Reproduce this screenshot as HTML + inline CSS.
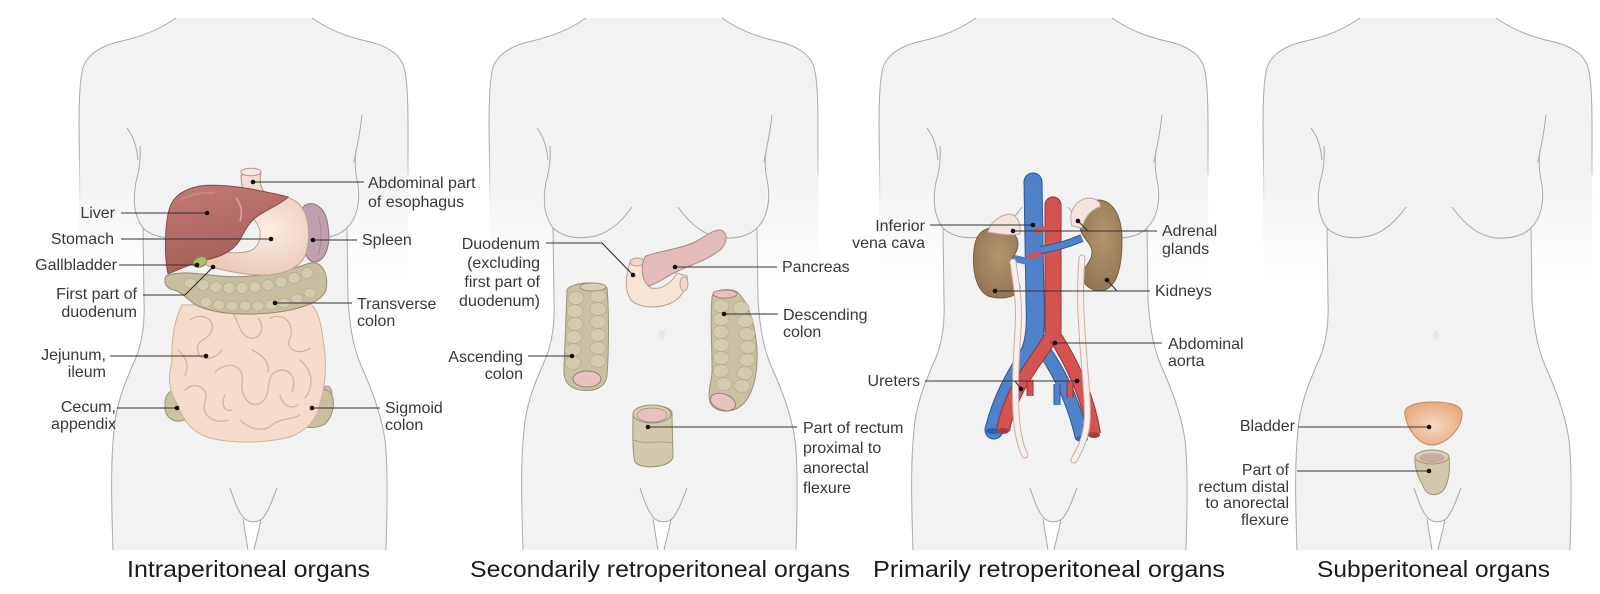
<!DOCTYPE html>
<html><head><meta charset="utf-8">
<style>
html,body{margin:0;padding:0;background:#fff;}
svg{display:block;}
.lbl{font-family:"Liberation Sans",sans-serif;font-size:16px;fill:#383838;}
.ttl{font-family:"Liberation Sans",sans-serif;font-size:23px;fill:#1a1a1a;}
.ld{stroke:#333;stroke-width:1.1;fill:none;}
.ol{stroke:#a9a9a9;stroke-width:1;fill:none;}
.hs{fill:#d2cbad;stroke:#aaa186;stroke-width:0.7;stroke-opacity:0.7;}
.sil{fill:none;stroke:#d6b19c;stroke-width:1.3;stroke-linecap:round;}
</style></head><body>
<svg width="1600" height="594" viewBox="0 0 1600 594" xmlns="http://www.w3.org/2000/svg">
<defs>
<linearGradient id="armfade" gradientUnits="userSpaceOnUse" x1="0" y1="18" x2="0" y2="285">
<stop offset="0" stop-color="#f2f2f2"/><stop offset="0.55" stop-color="#f2f2f2"/><stop offset="1" stop-color="#f2f2f2" stop-opacity="0"/>
</linearGradient>
<linearGradient id="linefade" gradientUnits="userSpaceOnUse" x1="0" y1="60" x2="0" y2="205">
<stop offset="0" stop-color="#a9a9a9"/><stop offset="0.6" stop-color="#a9a9a9"/><stop offset="1" stop-color="#a9a9a9" stop-opacity="0"/>
</linearGradient>
<linearGradient id="liverG" x1="0" y1="0" x2="0.3" y2="1">
<stop offset="0" stop-color="#c27a73"/><stop offset="1" stop-color="#a65e59"/>
</linearGradient>
<radialGradient id="stomG" cx="0.6" cy="0.45" r="0.6">
<stop offset="0" stop-color="#fbeee5"/><stop offset="1" stop-color="#ebc8b5"/>
</radialGradient>
<radialGradient id="bladG" cx="0.5" cy="0.55" r="0.6">
<stop offset="0" stop-color="#f7d8c0"/><stop offset="1" stop-color="#e6a77d"/>
</radialGradient>
<radialGradient id="kidG" cx="0.55" cy="0.4" r="0.65">
<stop offset="0" stop-color="#b3966f"/><stop offset="1" stop-color="#937452"/>
</radialGradient>
<g id="torso">
 <path fill="url(#armfade)" d="M -68,18 L 68,18 C 82,28 100,36 122,41 C 142,45 156,54 160,67 C 163,78 164,100 164,125 L 165,285 L -165,285 L -165,125 C -165,100 -164,78 -161,67 C -156,54 -142,45 -122,41 C -100,36 -82,28 -68,18 Z"/>
 <path fill="#f2f2f2" d="M -117,60 L 118,60 L 118,115 C 116,135 112,150 110,165 L 110,178 C 113,195 113,215 104,226 L 103,228 L 104,300 C 106,330 110,350 118,368 C 128,390 140,420 142,450 C 144,480 143,520 142,550 L -131,550 C -133,490 -133,460 -130,430 C -128,405 -120,385 -110,362 C -102,345 -99,325 -100,300 L -101,228 C -110,215 -110,195 -108,178 L -106,165 C -105,150 -108,138 -117,128 Z"/>
 <ellipse cx="8" cy="335" rx="3" ry="5" fill="#e7e7e7"/>
 <path fill="#fff" d="M -1,519 C 5,523 13,523 17,520 L 10,550 L 4,550 Z"/>
 <path stroke="url(#linefade)" stroke-width="1" fill="none" d="M -68,18 C -82,28 -100,36 -122,41 C -142,45 -156,54 -161,67 C -164,78 -165,100 -165,125 L -164,205"/>
 <path stroke="url(#linefade)" stroke-width="1" fill="none" d="M 68,18 C 82,28 100,36 122,41 C 142,45 156,54 160,67 C 163,78 164,100 164,125 L 164,175"/>
 <path class="ol" d="M -117,128 C -110,137 -107,148 -106,160"/>
 <path class="ol" d="M -104,146 C -103,160 -105,172 -108,182 C -111,198 -111,215 -101,228 C -91,237 -78,239 -64,237 C -48,235 -34,224 -22,207"/>
 <path class="ol" d="M 118,115 C 116,135 112,150 110,162"/>
 <path class="ol" d="M 112,150 C 110,165 112,175 114,185 C 116,200 114,217 103,228 C 96,235 84,239 68,238 C 50,236 36,224 24,207"/>
 <path class="ol" d="M -101,228 L -100,300 C -99,325 -102,345 -110,362 C -120,385 -128,405 -130,430 C -133,460 -133,490 -131,550"/>
 <path class="ol" d="M 103,228 L 104,300 C 106,330 110,350 118,368 C 128,390 140,420 142,450 C 144,480 143,520 142,550"/>
 <path class="ol" d="M -14,488 C -10,500 -6,512 0,518 C 5,523 14,523 19,518 C 25,510 29,498 33,488"/>
 <path class="ol" d="M -1,519 L 4,550 M 17,520 L 10,550"/>
</g>
</defs>

<use href="#torso" transform="translate(244,0)"/>
<use href="#torso" transform="translate(654,0)"/>
<use href="#torso" transform="translate(1044,0)"/>
<use href="#torso" transform="translate(1428,0)"/>

<!-- ===== Torso 1 organs ===== -->
<path d="M 170,392 C 178,385 190,388 192,398 C 194,410 190,420 180,421 C 170,422 164,414 165,405 C 165,398 166,395 170,392 Z" fill="#cdc4a4" stroke="#9a9175"/>
<ellipse cx="327" cy="393" rx="5" ry="7" fill="#d9b2ad" stroke="#a88a85" stroke-width="0.8"/>
<path d="M 295,395 C 305,388 322,386 330,392 C 336,400 334,415 325,424 C 315,430 300,428 292,420 Z" fill="#c9c0a0" stroke="#9a9175"/>
<path d="M 182,305 C 175,318 171,340 172,362 C 168,375 168,392 178,405 C 182,418 190,432 210,438 C 235,444 265,443 290,437 C 308,430 318,418 320,402 C 326,385 327,360 323,340 C 321,322 318,310 310,303 Z" fill="#f5dcca" stroke="#d2ae99"/>
<path class="sil" d="M 190,320 C 200,312 215,318 212,330 C 208,342 195,338 198,352 C 200,362 215,360 222,350"/>
<path class="sil" d="M 230,310 C 240,320 238,335 250,338 C 262,340 265,325 258,318"/>
<path class="sil" d="M 270,318 C 285,312 295,325 290,338 C 284,350 300,356 310,348"/>
<path class="sil" d="M 215,372 C 228,360 245,365 242,382 C 240,398 252,410 262,402 C 272,394 265,378 275,372 C 288,365 298,378 292,392"/>
<path class="sil" d="M 185,390 C 195,380 210,388 205,402 C 200,415 215,425 228,420"/>
<path class="sil" d="M 240,420 C 250,430 265,432 272,425 C 280,418 292,420 300,415"/>
<path class="sil" d="M 300,360 C 312,370 315,385 305,398"/>
<path class="sil" d="M 252,350 C 262,355 270,362 268,372"/>
<path class="sil" d="M 178,350 C 185,356 190,365 185,375"/>
<path class="sil" d="M 225,395 C 220,405 225,412 232,410"/>
<path class="sil" d="M 280,395 C 282,405 290,410 298,405"/>
<path d="M 166,276 C 180,270 200,274 220,276 C 250,279 285,272 310,263 C 322,261 329,274 326,290 C 322,302 300,310 270,313 C 240,316 212,313 196,305 C 188,300 182,292 174,290 C 166,288 163,283 166,276 Z" fill="#c6be9e" stroke="#958c70"/>
<ellipse class="hs" cx="190" cy="283" rx="6" ry="5"/>
<ellipse class="hs" cx="203" cy="285" rx="6" ry="5.5"/>
<ellipse class="hs" cx="216" cy="287" rx="6" ry="5.5"/>
<ellipse class="hs" cx="229" cy="288" rx="6" ry="5.5"/>
<ellipse class="hs" cx="242" cy="288" rx="6" ry="5.5"/>
<ellipse class="hs" cx="255" cy="287" rx="6" ry="5.5"/>
<ellipse class="hs" cx="268" cy="285" rx="6" ry="5.5"/>
<ellipse class="hs" cx="281" cy="282" rx="6" ry="5.5"/>
<ellipse class="hs" cx="294" cy="278" rx="6" ry="5.5"/>
<ellipse class="hs" cx="307" cy="273" rx="6" ry="5.5"/>
<ellipse class="hs" cx="206" cy="302" rx="6" ry="5"/>
<ellipse class="hs" cx="219" cy="305" rx="6" ry="5"/>
<ellipse class="hs" cx="232" cy="306" rx="6" ry="5"/>
<ellipse class="hs" cx="245" cy="306" rx="6" ry="5"/>
<ellipse class="hs" cx="258" cy="306" rx="6" ry="5"/>
<ellipse class="hs" cx="271" cy="305" rx="6" ry="5"/>
<ellipse class="hs" cx="284" cy="303" rx="6" ry="5"/>
<ellipse class="hs" cx="297" cy="299" rx="6" ry="5"/>
<ellipse class="hs" cx="310" cy="293" rx="6" ry="5"/>
<path d="M 304,206 C 314,199 326,208 328,226 C 331,244 326,260 316,262 C 307,263 302,250 302,236 C 302,222 300,212 304,206 Z" fill="#bf9fae" stroke="#8f7483"/>
<path d="M 318,215 C 322,228 322,245 318,255" stroke="#a88797" fill="none"/>
<path d="M 247,196 C 262,190 285,193 298,203 C 310,214 311,240 305,256 C 298,270 280,276 258,275 C 238,274 222,270 208,266 C 200,262 198,256 206,253 C 218,250 238,256 252,250 C 262,244 262,230 256,222 C 250,214 246,205 247,196 Z" fill="url(#stomG)" stroke="#b9a192"/>
<path d="M 241,175 C 241,182 242,188 245,196 L 266,194 C 260,188 259,181 261,173 Z" fill="#f2ddd0" stroke="#a89890"/>
<ellipse cx="251" cy="172" rx="10" ry="3.8" fill="#f6e8de" stroke="#a89890"/>
<path d="M 168,274 C 164,255 165,225 169,210 C 173,195 185,189 200,186 C 225,183 260,190 288,197 C 280,205 265,210 255,218 C 248,224 244,232 240,240 C 234,250 222,257 205,260 C 190,264 178,270 168,274 Z" fill="url(#liverG)" stroke="#864a46"/>
<path d="M 236,198 C 241,205 243,212 240,221" stroke="#dba19a" stroke-width="1.6" fill="none"/>
<path d="M 180,200 C 190,194 205,192 215,193" stroke="#cf8c85" stroke-width="1.5" fill="none"/>
<ellipse cx="200" cy="262" rx="7" ry="5" fill="#a9bf6c" stroke="#7d8f4a" transform="rotate(-20 200 262)"/>

<!-- ===== Torso 2 organs ===== -->
<path d="M 567,290 C 570,282 602,280 607,288 C 609,310 609,350 607,375 C 606,388 594,392 580,390 C 568,388 563,380 564,368 C 565,345 566,315 567,290 Z" fill="#c9c1a1" stroke="#9a9175"/>
<ellipse class="hs" cx="576" cy="298" rx="8" ry="6.5"/><ellipse class="hs" cx="598" cy="296" rx="8" ry="6.5"/>
<ellipse class="hs" cx="575" cy="311" rx="8" ry="6.5"/><ellipse class="hs" cx="598" cy="309" rx="8" ry="6.5"/>
<ellipse class="hs" cx="575" cy="324" rx="8" ry="6.5"/><ellipse class="hs" cx="598" cy="322" rx="8" ry="6.5"/>
<ellipse class="hs" cx="574" cy="337" rx="8" ry="6.5"/><ellipse class="hs" cx="598" cy="335" rx="8" ry="6.5"/>
<ellipse class="hs" cx="573" cy="350" rx="8" ry="6.5"/><ellipse class="hs" cx="598" cy="348" rx="8" ry="6.5"/>
<ellipse class="hs" cx="573" cy="363" rx="8" ry="6.5"/><ellipse class="hs" cx="598" cy="361" rx="8" ry="6.5"/>
<ellipse cx="593" cy="287" rx="13" ry="4" fill="#d8d0b3" stroke="#9a9175"/>
<ellipse cx="587" cy="379" rx="14" ry="8" fill="#e6c3bf" stroke="#9a8070"/>
<path d="M 712,297 C 714,288 736,287 740,295 C 750,306 756,330 757,350 C 758,375 753,395 742,405 C 732,414 714,413 710,402 C 707,392 712,382 712,370 C 712,345 710,320 712,297 Z" fill="#c9c1a1" stroke="#9a9175"/>
<ellipse class="hs" cx="721" cy="306" rx="8" ry="6.5"/><ellipse class="hs" cx="741" cy="308" rx="8" ry="6.5"/>
<ellipse class="hs" cx="721" cy="319" rx="8" ry="6.5"/><ellipse class="hs" cx="745" cy="321" rx="8" ry="6.5"/>
<ellipse class="hs" cx="721" cy="332" rx="8" ry="6.5"/><ellipse class="hs" cx="747" cy="334" rx="8" ry="6.5"/>
<ellipse class="hs" cx="721" cy="345" rx="8" ry="6.5"/><ellipse class="hs" cx="748" cy="347" rx="8" ry="6.5"/>
<ellipse class="hs" cx="721" cy="358" rx="8" ry="6.5"/><ellipse class="hs" cx="747" cy="360" rx="8" ry="6.5"/>
<ellipse class="hs" cx="721" cy="371" rx="8" ry="6.5"/><ellipse class="hs" cx="745" cy="373" rx="8" ry="6.5"/>
<ellipse class="hs" cx="724" cy="384" rx="8" ry="6.5"/><ellipse class="hs" cx="742" cy="386" rx="8" ry="6.5"/>
<ellipse cx="725" cy="294" rx="12" ry="4" fill="#e6c3bf" stroke="#9a8070"/>
<ellipse cx="723" cy="402" rx="13" ry="8" fill="#e6c3bf" stroke="#9a8070" transform="rotate(20 723 402)"/>
<path d="M 633,414 C 633,404 672,402 672,414 L 673,456 C 673,468 640,470 635,462 C 632,450 633,430 633,414 Z" fill="#d3c9ac" stroke="#9a9175"/>
<path d="M 634,440 C 645,445 660,440 672,443" stroke="#aaa186" fill="none"/>
<ellipse cx="652" cy="414" rx="19" ry="9" fill="#d8cfb2" stroke="#9a9175"/>
<ellipse cx="652" cy="415" rx="15" ry="7" fill="#e6c3bf" stroke="#a08a80" stroke-width="0.7"/>
<path d="M 630,262 C 626,275 624,290 631,300 C 640,309 660,309 673,302 C 683,296 689,285 687,276 L 677,273 C 671,284 661,290 651,288 C 643,284 644,270 644,262 Z" fill="#f6e4d6" stroke="#b9a191"/>
<ellipse cx="637" cy="262" rx="7" ry="4" fill="#edd5c8" stroke="#b9a191"/>
<path d="M 646,256 C 660,251 680,249 695,242 C 705,237 712,230 720,230 C 728,231 728,243 720,250 C 708,260 690,265 676,272 C 666,277 656,284 649,286 C 641,280 640,263 646,256 Z" fill="#e4bbbb" stroke="#ad8888"/>
<ellipse cx="684" cy="284" rx="4" ry="7" fill="#f0d8cc" stroke="#b9a191"/>

<!-- ===== Torso 3 organs ===== -->
<g fill="none" stroke-linecap="butt">
<path d="M 1040,345 C 1055,365 1072,395 1082,438" stroke="#2d5896" stroke-width="14"/>
<path d="M 1040,345 C 1055,365 1072,395 1082,438" stroke="#4f82c9" stroke-width="12"/>
<path d="M 1057,384 L 1057,405" stroke="#2d5896" stroke-width="7"/>
<path d="M 1057,384 L 1057,405" stroke="#4f82c9" stroke-width="5"/>
<path d="M 1033,182 L 1035,300 C 1036,325 1035,340 1030,352 C 1018,372 1003,394 994,430" stroke="#2d5896" stroke-width="19" stroke-linecap="round"/>
<path d="M 1033,182 L 1035,300 C 1036,325 1035,340 1030,352 C 1018,372 1003,394 994,430" stroke="#4f82c9" stroke-width="17" stroke-linecap="round"/>
<path d="M 1030,262 L 1012,258" stroke="#4f82c9" stroke-width="7"/>
<path d="M 1053,205 L 1053,335" stroke="#963333" stroke-width="17" stroke-linecap="round"/>
<path d="M 1053,205 L 1053,335" stroke="#d2534f" stroke-width="15" stroke-linecap="round"/>
<path d="M 1050,338 C 1038,360 1012,385 1003,430" stroke="#963333" stroke-width="14"/>
<path d="M 1050,338 C 1038,360 1012,385 1003,430" stroke="#d2534f" stroke-width="12"/>
<path d="M 1056,338 C 1070,360 1088,395 1094,434" stroke="#963333" stroke-width="14"/>
<path d="M 1056,338 C 1070,360 1088,395 1094,434" stroke="#d2534f" stroke-width="12"/>
<path d="M 1030,380 L 1030,396 M 1070,382 L 1070,398" stroke="#963333" stroke-width="7"/>
<path d="M 1030,380 L 1030,396 M 1070,382 L 1070,398" stroke="#d2534f" stroke-width="5"/>
<path d="M 1046,228 L 1034,232 M 1046,252 L 1028,257" stroke="#d2534f" stroke-width="5"/>
<path d="M 1040,250 C 1055,248 1068,244 1082,238" stroke="#2d5896" stroke-width="8"/>
<path d="M 1040,250 C 1055,248 1068,244 1082,238" stroke="#4f82c9" stroke-width="6"/>
</g>
<ellipse cx="993" cy="431" rx="7" ry="3" fill="#2f5ea8"/>
<ellipse cx="1003" cy="431" rx="6" ry="3" fill="#a83c3a"/>
<ellipse cx="1082" cy="439" rx="6" ry="3" fill="#2f5ea8"/>
<ellipse cx="1094" cy="435" rx="6" ry="3" fill="#a83c3a"/>
<path d="M 990,228 C 1005,225 1018,232 1018,245 C 1017,255 1010,258 1010,265 C 1010,272 1020,280 1020,288 C 1018,298 1000,300 988,296 C 976,290 972,270 974,250 C 975,238 980,230 990,228 Z" fill="url(#kidG)" stroke="#7a5f40"/>
<path d="M 1098,200 C 1112,200 1122,215 1122,240 C 1122,265 1118,285 1105,290 C 1092,293 1082,285 1083,275 C 1084,265 1092,262 1092,252 C 1092,242 1080,238 1080,225 C 1080,210 1088,201 1098,200 Z" fill="url(#kidG)" stroke="#7a5f40"/>
<path d="M 988,232 C 990,222 1000,215 1010,214 C 1018,215 1021,225 1020,234 C 1010,236 998,234 988,232 Z" fill="#f3e4de" stroke="#c0a8a0"/>
<path d="M 1072,226 C 1068,212 1075,200 1088,198 C 1096,198 1101,202 1100,207 C 1092,209 1085,216 1082,228 Z" fill="#f3e4de" stroke="#c0a8a0"/>
<g fill="none" stroke-linecap="round">
<path d="M 1013,262 C 1016,285 1020,300 1018,330 C 1016,360 1014,395 1017,425 C 1019,440 1022,450 1025,455" stroke="#c9aea6" stroke-width="7"/>
<path d="M 1013,262 C 1016,285 1020,300 1018,330 C 1016,360 1014,395 1017,425 C 1019,440 1022,450 1025,455" stroke="#f8eeea" stroke-width="5"/>
<path d="M 1082,258 C 1080,285 1080,300 1082,330 C 1084,370 1090,410 1086,430 C 1083,445 1078,452 1074,460" stroke="#c9aea6" stroke-width="7"/>
<path d="M 1082,258 C 1080,285 1080,300 1082,330 C 1084,370 1090,410 1086,430 C 1083,445 1078,452 1074,460" stroke="#f8eeea" stroke-width="5"/>
</g>

<!-- ===== Torso 4 organs ===== -->
<path d="M 1405,415 C 1402,405 1420,402 1432,402 C 1450,402 1463,405 1462,415 C 1461,430 1445,445 1432,445 C 1420,445 1408,432 1405,415 Z" fill="url(#bladG)" stroke="#bd8a66"/>
<path d="M 1415,458 C 1414,470 1420,480 1425,490 C 1430,497 1440,496 1445,488 C 1450,478 1450,465 1449,457 Z" fill="#d3c8ab" stroke="#9e9478"/>
<ellipse cx="1432" cy="457" rx="17" ry="7" fill="#d8ceb2" stroke="#9e9478"/>
<ellipse cx="1432" cy="458" rx="13" ry="5" fill="#c9a9a2"/>

<!-- ===== Leaders ===== -->
<g class="ld">
<path d="M 253,182 L 364,182"/>
<path d="M 121,213 L 207,213"/>
<path d="M 121,239 L 271,239"/>
<path d="M 313,240 L 357,240"/>
<path d="M 119,265 L 197,265"/>
<path d="M 143,295 L 185,295 L 213,267"/>
<path d="M 275,303 L 352,303"/>
<path d="M 110,356 L 206,356"/>
<path d="M 117,408 L 177,408"/>
<path d="M 312,408 L 380,408"/>
<path d="M 546,243 L 602,243 L 633,275"/>
<path d="M 675,267 L 777,267"/>
<path d="M 528,356 L 572,356"/>
<path d="M 724,314 L 778,314"/>
<path d="M 648,427 L 797,427"/>
<path d="M 930,225 L 1033,225"/>
<path d="M 1013,231 L 1157,231 M 1088,231 L 1078,221"/>
<path d="M 995,291 L 1150,291 M 1117,291 L 1107,280"/>
<path d="M 1055,343 L 1162,343"/>
<path d="M 925,381 L 1077,381 M 1015,381 L 1021,389"/>
<path d="M 1298,427 L 1429,427"/>
<path d="M 1297,471 L 1429,471"/>
</g>
<g fill="#111">
<circle cx="253" cy="182" r="2.3"/><circle cx="207" cy="213" r="2.3"/><circle cx="271" cy="239" r="2.3"/>
<circle cx="313" cy="240" r="2.3"/><circle cx="197" cy="265" r="2.3"/><circle cx="213" cy="267" r="2.3"/>
<circle cx="275" cy="303" r="2.3"/><circle cx="206" cy="356" r="2.3"/><circle cx="177" cy="408" r="2.3"/>
<circle cx="312" cy="408" r="2.3"/>
<circle cx="633" cy="275" r="2.3"/><circle cx="675" cy="267" r="2.3"/><circle cx="572" cy="356" r="2.3"/>
<circle cx="724" cy="314" r="2.3"/><circle cx="648" cy="427" r="2.3"/>
<circle cx="1033" cy="225" r="2.3"/><circle cx="1013" cy="231" r="2.3"/><circle cx="1078" cy="221" r="2.3"/>
<circle cx="995" cy="291" r="2.3"/><circle cx="1107" cy="280" r="2.3"/><circle cx="1055" cy="343" r="2.3"/>
<circle cx="1077" cy="381" r="2.3"/><circle cx="1021" cy="389" r="2.3"/>
<circle cx="1429" cy="427" r="2.3"/><circle cx="1429" cy="471" r="2.3"/>
</g>

<!-- ===== Labels ===== -->
<g class="lbl" text-anchor="end">
<text x="115" y="218">Liver</text>
<text x="114" y="244">Stomach</text>
<text x="117" y="270">Gallbladder</text>
<text x="137" y="299">First part of</text>
<text x="137" y="317">duodenum</text>
<text x="106" y="360">Jejunum,</text>
<text x="106" y="377">ileum</text>
<text x="116" y="412">Cecum,</text>
<text x="116" y="429">appendix</text>
<text x="540" y="249">Duodenum</text>
<text x="540" y="268">(excluding</text>
<text x="540" y="287">first part of</text>
<text x="540" y="306">duodenum)</text>
<text x="523" y="362">Ascending</text>
<text x="523" y="379">colon</text>
<text x="925" y="231">Inferior</text>
<text x="925" y="248">vena cava</text>
<text x="920" y="386">Ureters</text>
<text x="1295" y="431">Bladder</text>
<text x="1289" y="475">Part of</text>
<text x="1289" y="492">rectum distal</text>
<text x="1289" y="508">to anorectal</text>
<text x="1289" y="525">flexure</text>
</g>
<g class="lbl">
<text x="368" y="188">Abdominal part</text>
<text x="368" y="207">of esophagus</text>
<text x="362" y="245">Spleen</text>
<text x="357" y="309">Transverse</text>
<text x="357" y="326">colon</text>
<text x="385" y="413">Sigmoid</text>
<text x="385" y="430">colon</text>
<text x="782" y="272">Pancreas</text>
<text x="783" y="320">Descending</text>
<text x="783" y="337">colon</text>
<text x="803" y="433">Part of rectum</text>
<text x="803" y="453">proximal to</text>
<text x="803" y="473">anorectal</text>
<text x="803" y="493">flexure</text>
<text x="1162" y="236">Adrenal</text>
<text x="1162" y="254">glands</text>
<text x="1155" y="296">Kidneys</text>
<text x="1168" y="349">Abdominal</text>
<text x="1168" y="366">aorta</text>
</g>

<!-- ===== Titles ===== -->
<g class="ttl">
<text x="127" y="577" textLength="243" lengthAdjust="spacingAndGlyphs">Intraperitoneal organs</text>
<text x="470" y="577" textLength="380" lengthAdjust="spacingAndGlyphs">Secondarily retroperitoneal organs</text>
<text x="873" y="577" textLength="352" lengthAdjust="spacingAndGlyphs">Primarily retroperitoneal organs</text>
<text x="1317" y="577" textLength="233" lengthAdjust="spacingAndGlyphs">Subperitoneal organs</text>
</g>
</svg>
</body></html>
